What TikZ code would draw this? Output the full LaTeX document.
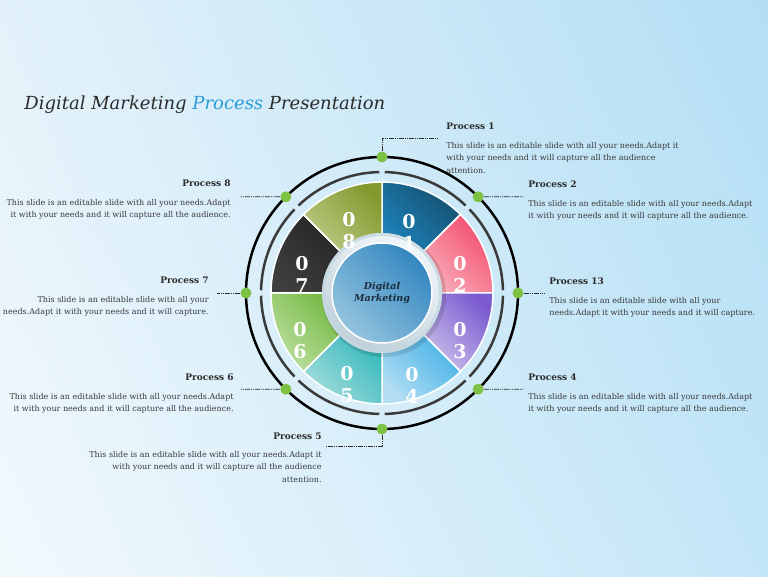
\documentclass[tikz,border=0pt]{standalone}
\usepackage{fontspec}
\setmainfont{DejaVu Serif}
\usetikzlibrary{positioning,shadings}
\definecolor{ink}{HTML}{2B2B2B}
\definecolor{grey}{HTML}{3A3A3A}
\definecolor{accent}{HTML}{2B9BD8}
\definecolor{lime}{HTML}{7DC242}
\definecolor{bgtl}{HTML}{E3F2FA}
\definecolor{bgtr}{HTML}{B3DEF4}
\definecolor{bgbl}{HTML}{F2F9FD}
\definecolor{bgbr}{HTML}{C3E6F7}
\definecolor{aD}{HTML}{16506F}\definecolor{aL}{HTML}{1D82BA}
\definecolor{bD}{HTML}{F34C6C}\definecolor{bL}{HTML}{F9ABB8}
\definecolor{cD}{HTML}{7B5BCF}\definecolor{cL}{HTML}{C9BEEA}
\definecolor{dD}{HTML}{45B2E6}\definecolor{dL}{HTML}{B2DDF3}
\definecolor{eD}{HTML}{37B9BC}\definecolor{eL}{HTML}{A4DDDC}
\definecolor{fD}{HTML}{76BA45}\definecolor{fL}{HTML}{BEE0A2}
\definecolor{gD}{HTML}{262626}\definecolor{gL}{HTML}{3E3E3E}
\definecolor{hD}{HTML}{83992F}\definecolor{hL}{HTML}{BCCB83}
\definecolor{hubD}{HTML}{3487C0}\definecolor{hubL}{HTML}{93C4DF}
\definecolor{haloL}{HTML}{F0F6F9}\definecolor{haloD}{HTML}{BFD0D9}
\definecolor{haloRim}{HTML}{C4D8E2}
\definecolor{hubtxt}{HTML}{1D2B3A}
\newcommand{\txtlong}{This slide is an editable slide with all your needs.Adapt it\\with your needs and it will capture all the audience\\attention.}
\newcommand{\txtmid}{This slide is an editable slide with all your needs.Adapt\\it with your needs and it will capture all the audience.}
\newcommand{\txtshort}{This slide is an editable slide with all your\\needs.Adapt it with your needs and it will capture.}
\tikzset{
  px/.style={x=1pt,y=1pt,line width=.8pt},
  head/.style={font=\fontsize{9}{11}\selectfont\bfseries,text=ink,inner sep=0pt},
  blurb/.style={font=\fontsize{8}{12.5}\selectfont,text=grey,inner sep=0pt},
  pin/.style={circle,fill=lime,inner sep=0pt,minimum size=11pt},
  lead/.style={ink,line width=.7pt,dash pattern=on 5pt off 1pt on 1pt off 1pt on 1pt off 1pt},
  num/.style={font=\fontsize{19}{22}\selectfont\bfseries,text=white,align=center,inner sep=0pt}
}
\begin{document}
\begin{tikzpicture}[px]
  \useasboundingbox (0,0) rectangle (768,576);
  \shade[upper left=bgtl,upper right=bgtr,lower left=bgbl,lower right=bgbr] (0,0) rectangle (768,576);
  \node[font=\fontsize{18}{20}\selectfont\itshape,text=ink,anchor=base west,inner sep=0pt] (title) at (24,466)
    {Digital Marketing \textcolor{accent}{Process} Presentation};
  % wheel
  \begin{scope}[shift={(382,283)}]
    \draw[line width=2.5pt] (0,0) circle (136);
    \foreach \a in {0,45,...,315}{\draw[grey,line width=2.5pt] (\a+1.3:121) arc[start angle=\a+1.3,end angle=\a+43.7,radius=121];}
    \foreach \i/\col in {1/a,2/b,3/c,4/d,5/e,6/f,7/g,8/h}{
      \pgfmathsetmacro\a{135-45*\i}
      \shade[bottom color=\col L,top color=\col D,shading angle=-45,draw=white,line width=1.5pt]
        (\a:58) -- (\a:111) arc[start angle=\a,end angle=\a-45,radius=111] -- (\a-45:58) arc[start angle=\a-45,end angle=\a,radius=58] -- cycle;
    }
    \fill[black,opacity=.12] (2,-2) circle (62);
    \shade[left color=haloL,right color=haloD,shading angle=-30] (0,0) circle (60);
    \draw[haloRim,line width=3pt,opacity=.8] (0,0) circle (58.5);
    \shade[bottom color=hubL,top color=hubD,shading angle=-45,draw=white,line width=1.5pt] (0,0) circle (50);
    \node[font=\fontsize{9.5}{12.5}\selectfont\bfseries\itshape,text=hubtxt,align=center] (hub) at (0,0) {Digital\\Marketing};
    \foreach \i/\x/\y in {1/27/61,2/78/19,3/78/-48,4/30/-92,5/-35/-92,6/-82/-48,7/-80/19,8/-33/62}
      \node[num] (n\i) at (\x,\y) {0\\\i};
    \foreach \i in {1,...,8} \node[pin] (p\i) at (135-45*\i:136) {};
  \end{scope}
  % leaders
  \coordinate (e1) at (438,438); \coordinate (e2) at (523,379.2);
  \coordinate (e3) at (545,283); \coordinate (e4) at (523,186.8);
  \coordinate (e5) at (326,130); \coordinate (e6) at (240,186.8);
  \coordinate (e7) at (217,283); \coordinate (e8) at (240,379.2);
  \draw[lead] (p1) |- (e1); \draw[lead] (p5) |- (e5);
  \foreach \i in {2,3,4,6,7,8} \draw[lead] (p\i) -- (e\i);
  % right side texts
  \node[head,anchor=base west] (h1) at (446,446) {Process 1};
  \node[blurb,below=11pt of h1.south west,anchor=north west,align=left] (b1) {\txtlong};
  \node[head,anchor=base west] (h2) at (528,388) {Process 2};
  \node[blurb,below=11pt of h2.south west,anchor=north west,align=left] (b2) {\txtmid};
  \node[head,anchor=base west] (h3) at (549,291) {Process 13};
  \node[blurb,below=11pt of h3.south west,anchor=north west,align=left] (b3) {\txtshort};
  \node[head,anchor=base west] (h4) at (528,195) {Process 4};
  \node[blurb,below=11pt of h4.south west,anchor=north west,align=left] (b4) {\txtmid};
  % left side texts
  \node[head,anchor=base east] (h5) at (322,137) {Process 5};
  \node[blurb,below=11pt of h5.south east,anchor=north east,align=right] (b5) {\txtlong};
  \node[head,anchor=base east] (h6) at (234,195) {Process 6};
  \node[blurb,below=11pt of h6.south east,anchor=north east,align=right] (b6) {\txtmid};
  \node[head,anchor=base east] (h7) at (209,292) {Process 7};
  \node[blurb,below=11pt of h7.south east,anchor=north east,align=right] (b7) {\txtshort};
  \node[head,anchor=base east] (h8) at (231,389) {Process 8};
  \node[blurb,below=11pt of h8.south east,anchor=north east,align=right] (b8) {\txtmid};
\end{tikzpicture}
\end{document}
